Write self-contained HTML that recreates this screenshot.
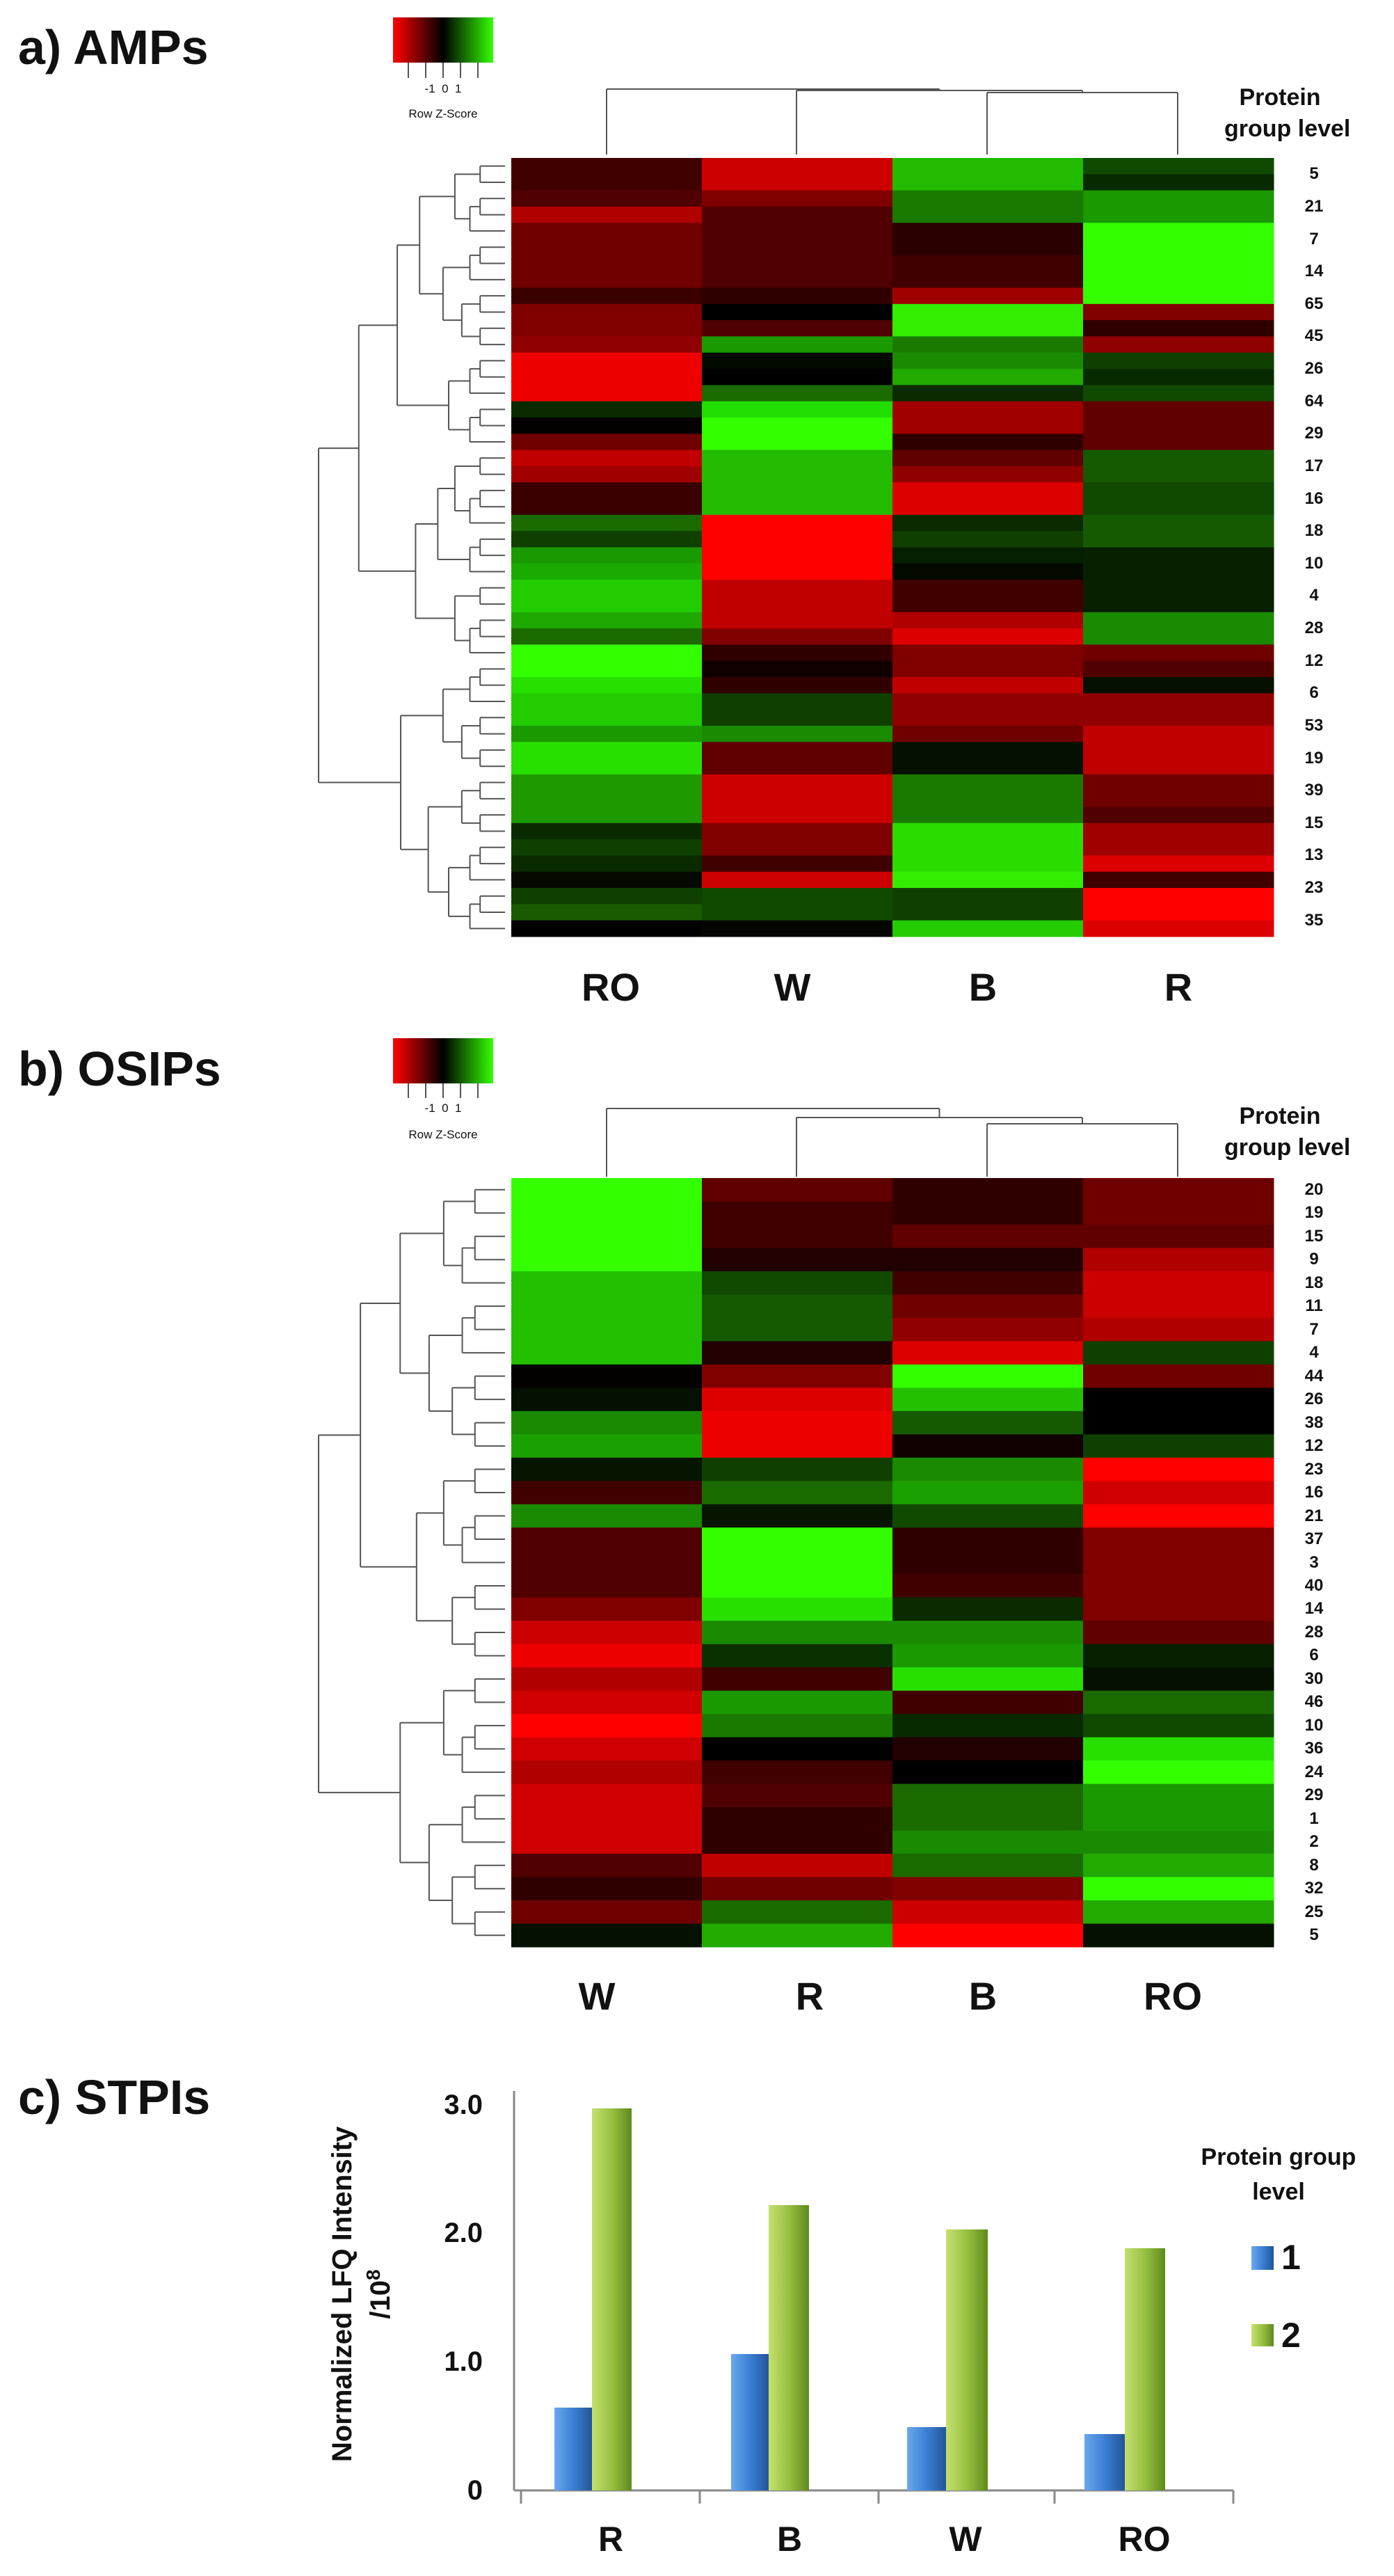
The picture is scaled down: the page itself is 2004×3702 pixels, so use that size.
<!DOCTYPE html>
<html><head><meta charset="utf-8">
<style>
html,body{margin:0;padding:0;background:#fff;}
body{width:2004px;height:3702px;position:relative;overflow:hidden;font-family:"Liberation Sans",Arial,sans-serif;}
.t{position:absolute;font-weight:bold;color:#111;white-space:nowrap;}
</style></head><body>
<svg id="s" width="2004" height="3702" style="position:absolute;left:0;top:0" xmlns="http://www.w3.org/2000/svg">
<defs>
<linearGradient id="key" x1="0" x2="1" y1="0" y2="0"><stop offset="0" stop-color="#ff0000"/><stop offset="0.5" stop-color="#000000"/><stop offset="1" stop-color="#33ff00"/></linearGradient>
<linearGradient id="gb" x1="0" x2="1"><stop offset="0" stop-color="#6aa8ee"/><stop offset="0.5" stop-color="#3b80d4"/><stop offset="1" stop-color="#22559a"/></linearGradient>
<linearGradient id="gg" x1="0" x2="1"><stop offset="0" stop-color="#c4e070"/><stop offset="0.5" stop-color="#98c040"/><stop offset="1" stop-color="#5f8a1c"/></linearGradient>
</defs>
<g id="g"></g>
<!-- chart c -->
<g stroke="#888" stroke-width="3" fill="none">
<line x1="739" y1="3005" x2="739" y2="3579"/>
<line x1="739" y1="3579" x2="1773" y2="3579"/>
<line x1="749" y1="3579" x2="749" y2="3598"/><line x1="1006" y1="3579" x2="1006" y2="3598"/>
<line x1="1263" y1="3579" x2="1263" y2="3598"/><line x1="1516" y1="3579" x2="1516" y2="3598"/><line x1="1773" y1="3579" x2="1773" y2="3598"/>
</g>
<g>
<rect x="797" y="3460" width="54" height="119" fill="url(#gb)"/>
<rect x="851" y="3030" width="57" height="549" fill="url(#gg)"/>
<rect x="1051" y="3383" width="54" height="196" fill="url(#gb)"/>
<rect x="1105" y="3169" width="58" height="410" fill="url(#gg)"/>
<rect x="1304" y="3488" width="56" height="91" fill="url(#gb)"/>
<rect x="1360" y="3204" width="60" height="375" fill="url(#gg)"/>
<rect x="1559" y="3498" width="58" height="81" fill="url(#gb)"/>
<rect x="1617" y="3231" width="58" height="348" fill="url(#gg)"/>
<rect x="1799" y="3228" width="32" height="34" fill="url(#gb)"/>
<rect x="1799" y="3340" width="32" height="32" fill="url(#gg)"/>
</g>
<text x="0" y="0" transform="translate(505,3297) rotate(-90)" text-anchor="middle" font-family="Liberation Sans" font-weight="bold" font-size="40" fill="#111">Normalized LFQ Intensity</text>
<text x="0" y="0" transform="translate(560,3297) rotate(-90)" text-anchor="middle" font-family="Liberation Sans" font-weight="bold" font-size="40" fill="#111">/10<tspan dy="-14" font-size="28">8</tspan></text>
</svg>

<div class="t" style="left:26px;top:28px;font-size:70px;">a) AMPs</div>
<div class="t" style="left:26px;top:1496px;font-size:70px;">b) OSIPs</div>
<div class="t" style="left:26px;top:2974px;font-size:70px;">c) STPIs</div>

<div class="t" style="left:1760px;top:118px;width:160px;text-align:center;font-size:34px;line-height:45px;">Protein<br>group level</div>
<div class="t" style="left:1760px;top:1582px;width:160px;text-align:center;font-size:34px;line-height:45px;">Protein<br>group level</div>

<div class="t" style="left:565px;top:118px;width:144px;text-align:center;font-size:17px;font-weight:normal;">-1&nbsp;&nbsp;0&nbsp;&nbsp;1</div>
<div class="t" style="left:565px;top:154px;width:144px;text-align:center;font-size:17px;font-weight:normal;">Row Z-Score</div>
<div class="t" style="left:565px;top:1583px;width:144px;text-align:center;font-size:17px;font-weight:normal;">-1&nbsp;&nbsp;0&nbsp;&nbsp;1</div>
<div class="t" style="left:565px;top:1621px;width:144px;text-align:center;font-size:17px;font-weight:normal;">Row Z-Score</div>

<div class="t" style="left:828px;top:1386px;width:100px;text-align:center;font-size:56px;">RO</div>
<div class="t" style="left:1089px;top:1386px;width:100px;text-align:center;font-size:56px;">W</div>
<div class="t" style="left:1363px;top:1386px;width:100px;text-align:center;font-size:56px;">B</div>
<div class="t" style="left:1644px;top:1386px;width:100px;text-align:center;font-size:56px;">R</div>

<div class="t" style="left:808px;top:2836px;width:100px;text-align:center;font-size:56px;">W</div>
<div class="t" style="left:1114px;top:2836px;width:100px;text-align:center;font-size:56px;">R</div>
<div class="t" style="left:1363px;top:2836px;width:100px;text-align:center;font-size:56px;">B</div>
<div class="t" style="left:1636px;top:2836px;width:100px;text-align:center;font-size:56px;">RO</div>

<div class="t" style="left:604px;top:3003px;width:90px;text-align:right;font-size:40px;">3.0</div>
<div class="t" style="left:604px;top:3187px;width:90px;text-align:right;font-size:40px;">2.0</div>
<div class="t" style="left:604px;top:3372px;width:90px;text-align:right;font-size:40px;">1.0</div>
<div class="t" style="left:604px;top:3557px;width:90px;text-align:right;font-size:40px;">0</div>

<div class="t" style="left:828px;top:3620px;width:100px;text-align:center;font-size:50px;">R</div>
<div class="t" style="left:1085px;top:3620px;width:100px;text-align:center;font-size:50px;">B</div>
<div class="t" style="left:1338px;top:3620px;width:100px;text-align:center;font-size:50px;">W</div>
<div class="t" style="left:1595px;top:3620px;width:100px;text-align:center;font-size:50px;">RO</div>

<div class="t" style="left:1718px;top:3075px;width:240px;text-align:center;font-size:34px;line-height:50px;">Protein group<br>level</div>
<div class="t" style="left:1842px;top:3215px;font-size:50px;">1</div>
<div class="t" style="left:1842px;top:3327px;font-size:50px;">2</div>

<div id="labels"></div>

<script>
var NS="http://www.w3.org/2000/svg",G=document.getElementById("g");
function el(n,a){var e=document.createElementNS(NS,n);for(var k in a)e.setAttribute(k,a[k]);G.appendChild(e);return e;}
function ln(x1,y1,x2,y2){el("line",{x1:x1,y1:y1,x2:x2,y2:y2,stroke:"#555","stroke-width":2});}
var A=[
[["400000",2],["500000",1],["b00000",1],["700000",4],["3a0000",1],["800000",2],["900000",1],["ee0000",3],["0a2a00",1],["050000",1],["700000",1],["c00000",1],["a00000",1],["3a0000",2],["1a6a00",1],["0f4000",1],["1a9a00",1],["1aaa00",1],["22cc00",2],["1ea800",1],["1a6a00",1],["33ff00",2],["28e000",1],["22cc00",2],["1a9a00",1],["28e000",2],["1e9a00",3],["0a2a00",1],["0f4000",1],["0a2a00",1],["050a00",1],["0f4000",1],["1a5a00",1],["000000",1]],
[["cc0000",2],["800000",1],["500000",5],["300000",1],["000000",1],["500000",1],["1a9a00",1],["020a00",1],["000000",1],["1a6a00",1],["22dd00",1],["33ff00",2],["22bb00",4],["ff0000",4],["c00000",3],["800000",1],["300000",1],["100000",1],["300000",1],["104000",2],["1a8a00",1],["600000",2],["cc0000",3],["800000",2],["400000",1],["cc0000",1],["104a00",2],["050500",1]],
[["22bb00",2],["1a7a00",2],["2a0000",2],["400000",2],["a00000",1],["33ee00",2],["1a7a00",1],["1a8a00",1],["22aa00",1],["0a2a00",1],["a00000",2],["300000",1],["600000",1],["900000",1],["dd0000",2],["0a2a00",1],["104000",1],["052000",1],["050a00",1],["400000",2],["b00000",1],["dd0000",1],["800000",2],["c00000",1],["900000",2],["700000",1],["051000",2],["1a7a00",3],["2add00",3],["33ee00",1],["104000",2],["22cc00",1]],
[["104a00",1],["082a00",1],["1a9a00",2],["33ff00",5],["800000",1],["300000",1],["900000",1],["0f4000",1],["082a00",1],["104a00",1],["600000",3],["155a00",2],["0f4a00",2],["155a00",2],["072000",4],["1a8a00",2],["700000",1],["500000",1],["051000",1],["900000",2],["c00000",3],["700000",2],["500000",1],["a00000",2],["dd0000",1],["400000",1],["ff0000",2],["dd0000",1]]];
var B=[
[["33ff00",4],["22c000",4],["050000",1],["051000",1],["1a8a00",1],["1aa000",1],["051500",1],["400000",1],["1a8a00",1],["500000",3],["800000",1],["cc0000",1],["ee0000",1],["b00000",1],["d00000",1],["ff0000",1],["d00000",1],["b00000",1],["d00000",3],["500000",1],["300000",1],["700000",1],["051000",1]],
[["600000",1],["400000",2],["200000",1],["104a00",1],["155a00",2],["200000",1],["800000",1],["dd0000",1],["ee0000",2],["104000",1],["1a6a00",1],["051500",1],["33ff00",3],["28e000",1],["1a8a00",1],["0a3000",1],["400000",1],["1a9a00",1],["1a7a00",1],["000000",1],["400000",1],["500000",1],["300000",2],["c00000",1],["700000",1],["1a6a00",1],["22aa00",1]],
[["300000",2],["600000",1],["200000",1],["400000",1],["700000",1],["900000",1],["dd0000",1],["33ff00",1],["22c000",1],["155a00",1],["100000",1],["1a8a00",1],["1aa000",1],["104a00",1],["300000",2],["400000",1],["0a2a00",1],["1a8a00",1],["1a9a00",1],["28e000",1],["400000",1],["082a00",1],["200000",1],["000000",1],["1a6a00",2],["1a8a00",1],["1a6a00",1],["800000",1],["cc0000",1],["ff0000",1]],
[["700000",2],["600000",1],["b00000",1],["cc0000",2],["b00000",1],["104000",1],["700000",1],["000000",2],["104000",1],["ff0000",1],["d00000",1],["ff0000",1],["800000",4],["600000",1],["072000",1],["051000",1],["1a6a00",1],["104a00",1],["28e000",1],["33ff00",1],["1a9a00",2],["1a8a00",1],["22aa00",1],["33ff00",1],["22aa00",1],["051000",1]]];
var L=document.getElementById("labels");
function heat(data,N,top,bot,labs,labEvery){
 var left=735,right=1831,cw=(right-left)/4,rh=(bot-top)/N;
 data.forEach(function(col,c){var r=0;col.forEach(function(s){el("rect",{x:left+c*cw,y:top+r*rh,width:cw+0.5,height:s[1]*rh+0.5,fill:"#"+s[0]});r+=s[1];});});
 labs.forEach(function(t,i){var d=document.createElement("div");d.className="t";d.textContent=t;
  var cy=top+(i*labEvery+labEvery/2)*rh;d.style.cssText="left:1849px;width:80px;text-align:center;font-size:24px;top:"+(cy-14)+"px";L.appendChild(d);});
 // row dendrogram
 var leafX=726,rootX=462;
 function tree(lo,hi){ // returns [x,y]
  if(hi-lo==1)return [leafX,top+(lo+0.5)*rh];
  var sz=hi-lo,mid=lo+Math.max(1,Math.round(sz*(0.35+0.3*((lo*7+hi*3)%5)/4)));
  if(mid>=hi)mid=hi-1;
  var a=tree(lo,mid),b=tree(mid,hi);
  var x=leafX-(leafX-rootX)*Math.pow((sz-1)/(N-1),0.55)-4;
  ln(x,a[1],a[0],a[1]);ln(x,b[1],b[0],b[1]);ln(x,a[1],x,b[1]);
  return [x,(a[1]+b[1])/2];
 }
 tree(0,N);
}
heat(A,48,227,1346,["5","21","7","14","65","45","26","64","29","17","16","18","10","4","28","12","6","53","19","39","15","13","23","35"],2);
heat(B,33,1693,2798,["20","19","15","9","18","11","7","4","44","26","38","12","23","16","21","37","3","40","14","28","6","30","46","10","36","24","29","1","2","8","32","25","5"],1);
// column dendrograms
function cden(y1,y2,y3,bot){
 var xs=[872,1145,1419,1693];
 ln(xs[2],y3,xs[2],bot);ln(xs[3],y3,xs[3],bot);ln(xs[2],y3,xs[3],y3);
 var m1=(xs[2]+xs[3])/2;ln(xs[1],y2,xs[1],bot);ln(m1,y2,m1,y3);ln(xs[1],y2,m1,y2);
 var m2=(xs[1]+m1)/2;ln(xs[0],y1,xs[0],bot);ln(m2,y1,m2,y2);ln(xs[0],y1,m2,y1);
}
cden(128,130,133,222);cden(1593,1606,1615,1691);
// keys
el("rect",{x:565,y:25,width:144,height:65,fill:"url(#key)"});
el("rect",{x:565,y:1492,width:144,height:65,fill:"url(#key)"});
[[90,112],[1557,1578]].forEach(function(p){for(var i=0;i<5;i++){var x=587+i*25;ln(x,p[0],x,p[1]);}});
</script>
</body></html>
